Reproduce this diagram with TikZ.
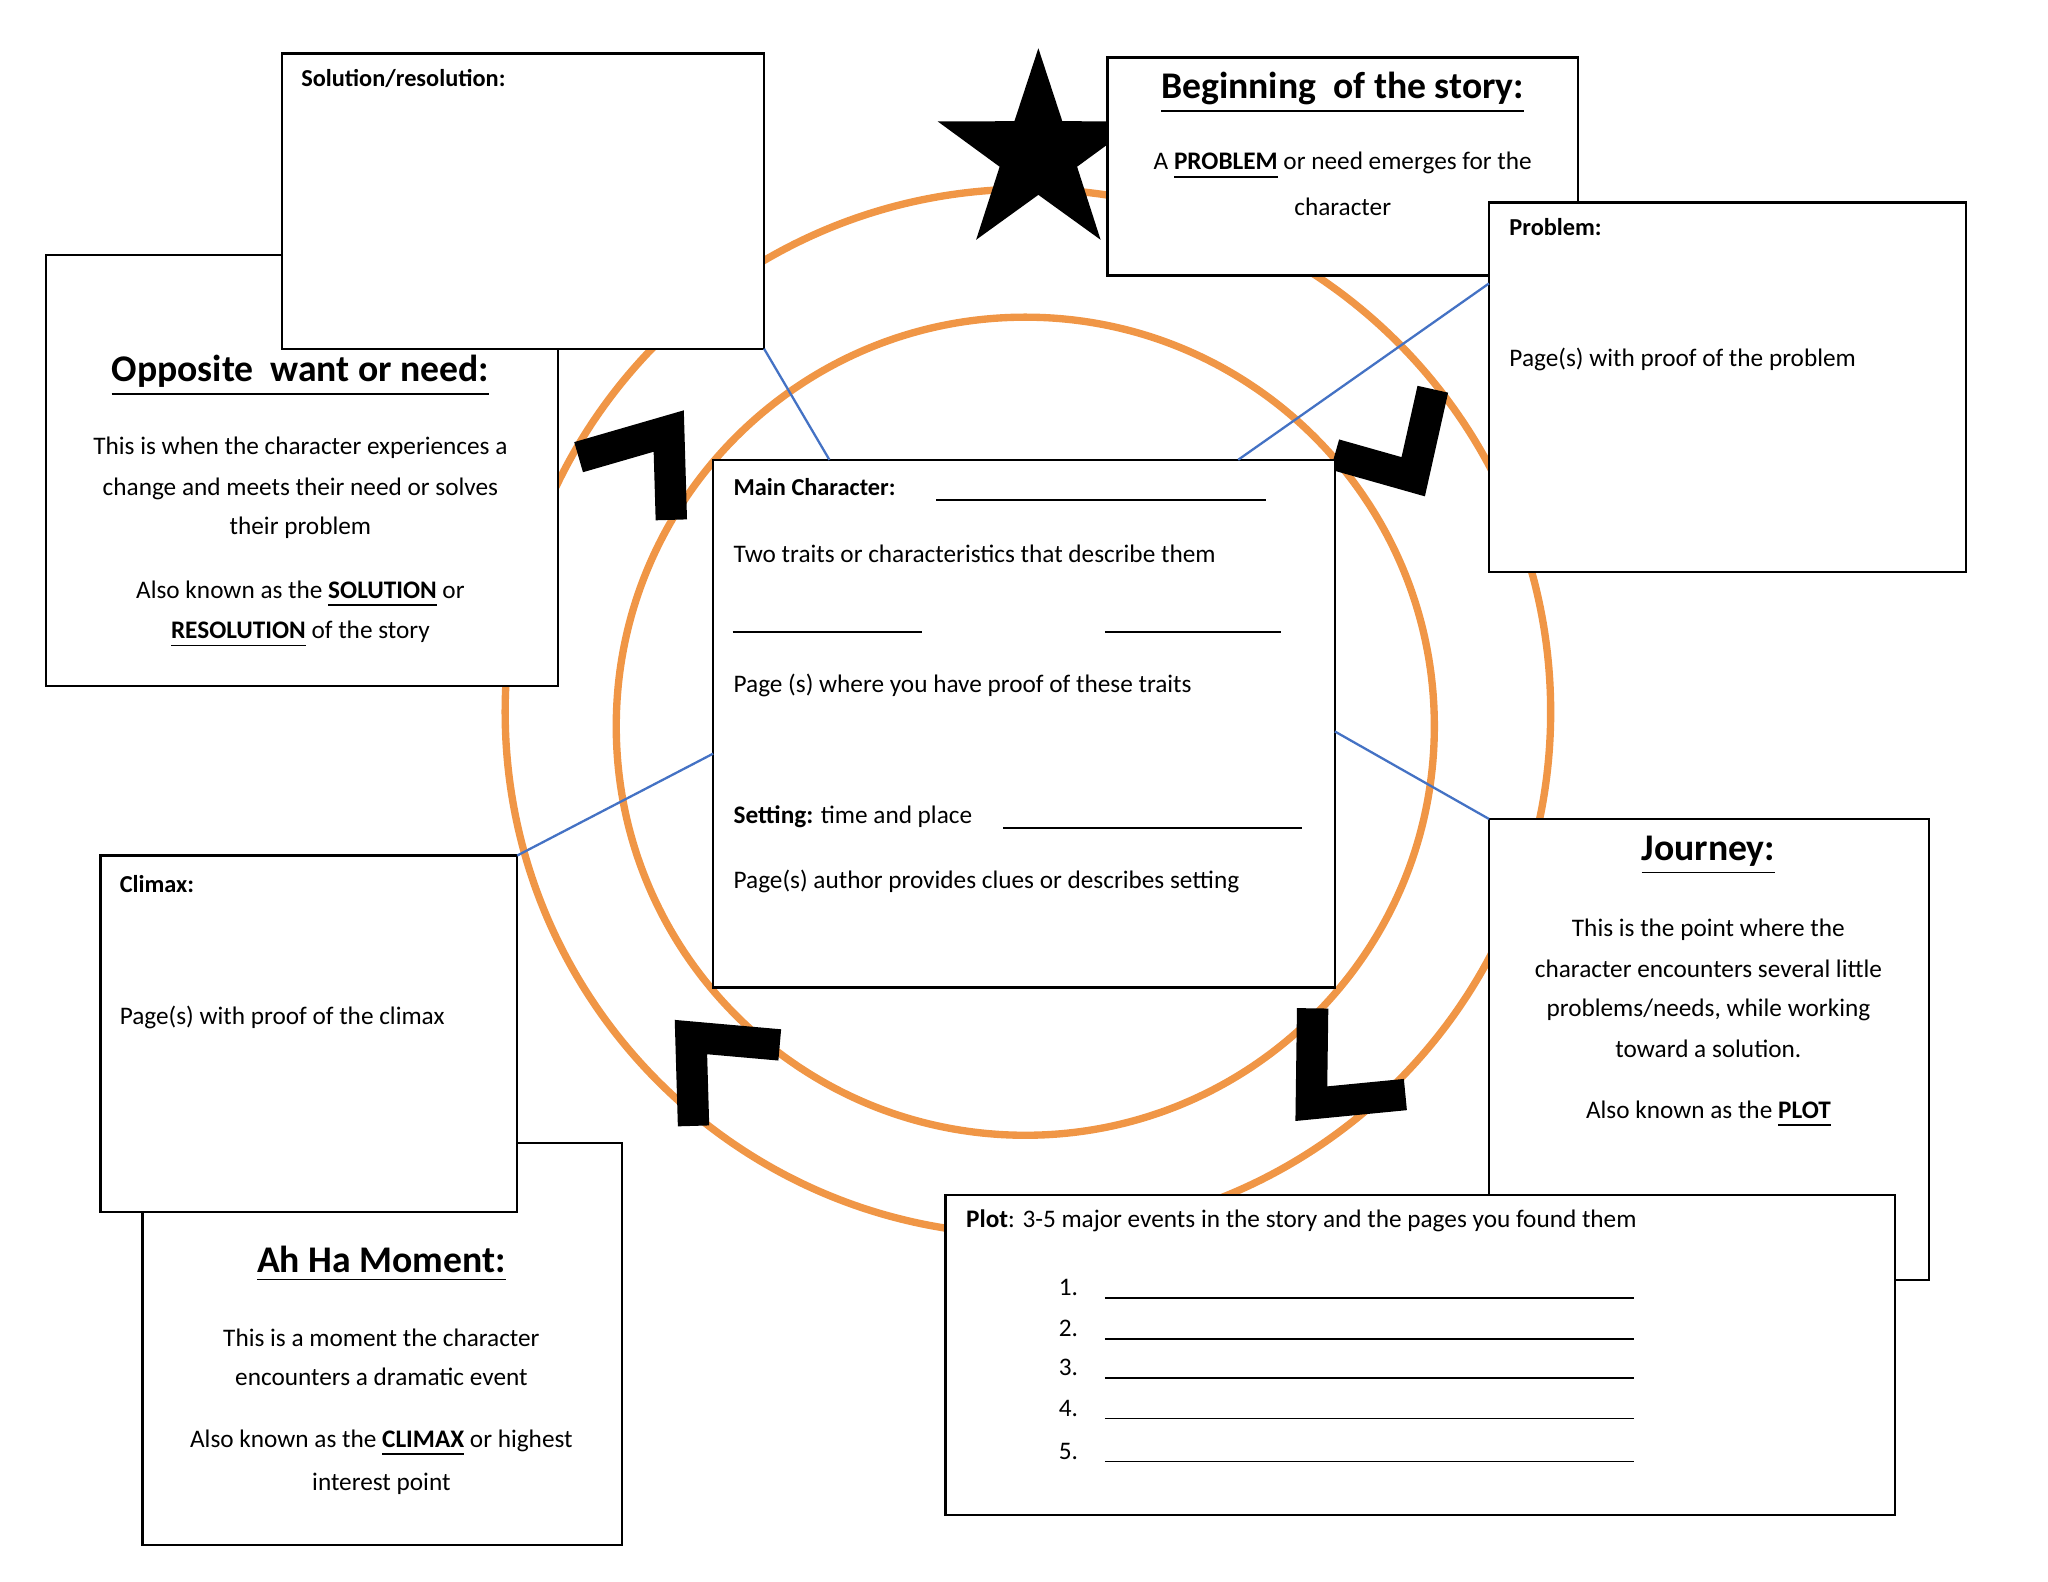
\documentclass[tikz,border=0pt]{standalone}
\usepackage{fontspec}
\setmainfont{Carlito}
\usetikzlibrary{shapes.geometric}
\definecolor{ring}{RGB}{240,150,70}
\definecolor{link}{RGB}{68,114,196}
\tikzset{
    box/.style={draw=black,fill=white,line width=0.5pt},
    ring/.style={draw=ring,line width=1.6pt},
    linkline/.style={draw=link,line width=0.5pt},
    chev/.style={draw=black,line width=0.24cm},
    txt/.style={inner sep=0pt,font=\fontsize{5.5pt}{6.6pt}\selectfont},
    lbl/.style={inner sep=0pt,anchor=west,font=\fontsize{5.3pt}{6.4pt}\selectfont\bfseries},
    ttl/.style={inner sep=0pt,font=\fontsize{8.2pt}{9.8pt}\selectfont\bfseries},
    blank/.style={draw=black,line width=0.4pt},
}
\newcommand{\ul}[1]{\underline{#1}}
\begin{document}
\begin{tikzpicture}[x=0.01cm,y=-0.01cm]
  \useasboundingbox (0,0) rectangle (1568,1211);

  % rings
  \draw[ring] (787,545) circle[radius=4cm];
  \draw[ring] (785,556) circle[radius=3.13cm];

  % star
  \node[star,star points=5,star point ratio=2.6,fill=black,minimum size=1.62cm,inner sep=0pt] (star) at (795,118) {};

  % chevrons
  \draw[chev] (443,350) -- (512,330) -- (514,398);
  \draw[chev] (1022,348) -- (1082,365) -- (1097,298);
  \draw[chev] (531,862) -- (529,794) -- (597,800);
  \draw[chev] (1005,772) -- (1004,845) -- (1076,838);

  % boxes
  \draw[box] (35,195) rectangle (427,525);
  \draw[box] (216,41) rectangle (585,267);
  \draw[box] (848,44) rectangle (1208,211);
  \draw[box] (1140,155) rectangle (1505,438);
  \draw[box] (546,352) rectangle (1022,756);
  \draw[box] (109,875) rectangle (476,1183);
  \draw[box] (77,655) rectangle (396,928);
  \draw[box] (1140,627) rectangle (1477,980);
  \draw[box] (724,915) rectangle (1451,1160);

  \coordinate (solA) at (585,267);  \coordinate (mainA) at (635,352);
  \coordinate (probA) at (1140,217); \coordinate (mainB) at (948,352);
  \coordinate (mainC) at (1022,560); \coordinate (jourA) at (1140,627);
  \coordinate (mainD) at (546,577);  \coordinate (climA) at (396,655);
  \draw[linkline] (solA) -- (mainA);
  \draw[linkline] (probA) -- (mainB);
  \draw[linkline] (mainC) -- (jourA);
  \draw[linkline] (mainD) -- (climA);

  % solution / opposite
  \node[lbl] (sol) at (230,60) {Solution/resolution:};
  \node[ttl] (opp) at (230,288) {\ul{Opposite\ \ want or need:}};
  \node[txt] (opp1) at (230,343) {This is when the character experiences a};
  \node[txt] (opp2) at (230,374) {change and meets their need or solves};
  \node[txt] (opp3) at (230,404) {their problem};
  \node[txt] (opp4) at (230,455) {Also known as the \textbf{\ul{SOLUTION}} or};
  \node[txt] (opp5) at (230,486) {\textbf{\ul{RESOLUTION}} of the story};

  % beginning / problem
  \node[ttl] (beg) at (1028,71) {\ul{Beginning\ \ of the story:}};
  \node[txt] (beg1) at (1028,127) {A \textbf{\ul{PROBLEM}} or need emerges for the};
  \node[txt] (beg2) at (1028,158) {character};
  \node[lbl] (prob) at (1155,174) {Problem:};
  \node[txt,anchor=west] (prob1) at (1155,275) {Page(s) with proof of the problem};

  % main character
  \node[lbl] (main) at (561,373) {Main Character:};
  \coordinate (mb1) at (717,383); \coordinate (mb2) at (969,383);
  \draw[blank] (mb1) -- (mb2);
  \node[txt,anchor=west] (main1) at (561,424) {Two traits or characteristics that describe them};
  \coordinate (mb3) at (561,484); \coordinate (mb4) at (706,484);
  \coordinate (mb5) at (846,484); \coordinate (mb6) at (981,484);
  \draw[blank] (mb3) -- (mb4);
  \draw[blank] (mb5) -- (mb6);
  \node[txt,anchor=west] (main2) at (561,525) {Page (s) where you have proof of these traits};
  \node[txt,anchor=west] (set) at (561,625) {\textbf{Setting:} time and place};
  \coordinate (mb7) at (768,634); \coordinate (mb8) at (997,634);
  \draw[blank] (mb7) -- (mb8);
  \node[txt,anchor=west] (main3) at (561,675) {Page(s) author provides clues or describes setting};

  % climax / ah ha
  \node[lbl] (clim) at (91,677) {Climax:};
  \node[txt,anchor=west] (clim1) at (91,779) {Page(s) with proof of the climax};
  \node[ttl] (aha) at (292,968) {\ul{Ah Ha Moment:}};
  \node[txt] (aha1) at (292,1024) {This is a moment the character};
  \node[txt] (aha2) at (292,1054) {encounters a dramatic event};
  \node[txt] (aha3) at (292,1105) {Also known as the \textbf{\ul{CLIMAX}} or highest};
  \node[txt] (aha4) at (292,1136) {interest point};

  % journey
  \node[ttl] (jour) at (1308,655) {\ul{Journey:}};
  \node[txt] (jour1) at (1308,712) {This is the point where the};
  \node[txt] (jour2) at (1308,742) {character encounters several little};
  \node[txt] (jour3) at (1308,773) {problems/needs, while working};
  \node[txt] (jour4) at (1308,803) {toward a solution.};
  \node[txt] (jour5) at (1308,853) {Also known as the \textbf{\ul{PLOT}}};

  % plot
  \node[txt,anchor=west] (plot) at (739,935) {\textbf{Plot}: 3-5 major events in the story and the pages you found them};
  \foreach \n/\y in {1/994,2/1025,3/1055,4/1086,5/1119} {
    \draw[blank] (846,\y) -- (1251,\y);
  }
  \foreach \n/\y in {1/986,2/1017,3/1047,4/1078,5/1111} {
    \node[txt,anchor=east] (num\n) at (826,\y) {\n.};
  }
\end{tikzpicture}
\end{document}
